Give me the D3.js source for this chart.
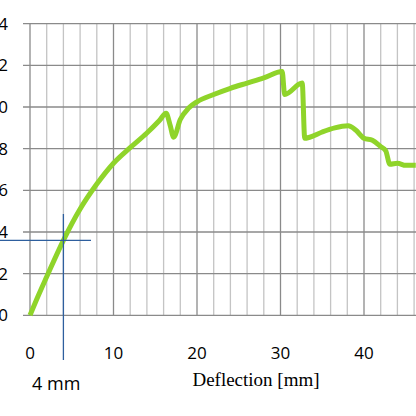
<!DOCTYPE html><html><head><meta charset="utf-8">
<script src="https://cdn.jsdelivr.net/npm/d3@7"></script>
<style>body{margin:0;background:#fff}</style></head><body>
<svg id="c" width="416" height="416"></svg>
<script>
const deflection=[0,1,2,4,6,8,10,12,14,15.5,16.3,16.8,17.2,18,19,20,22,24,26,28,30.2,30.5,32.6,32.9,33.5,35,36.5,38.1,39,40,41,42,42.6,43.1,44,45,46.2];
const load=[0,0.95,1.85,3.6,5.1,6.3,7.3,8.05,8.75,9.35,9.7,9.1,8.55,9.4,9.95,10.25,10.6,10.9,11.15,11.4,11.7,10.6,11.15,8.5,8.55,8.8,9.0,9.1,8.9,8.5,8.4,8.1,7.9,7.25,7.3,7.2,7.2];
const xTicks=[0,10,20,30,40];
const yTicks=[0,2,4,6,8,10,12,14];
const marker={x:4,y:3.6};
const svg=d3.select("#c");
const x=d3.scaleLinear().domain([0,10]).range([30,113.5]);
const y=d3.scaleLinear().domain([0,14]).range([315.3,23.7]);
const xmax=x.invert(416);
for(let v=0;v<=xmax;v+=2){svg.append("line").attr("x1",x(v)).attr("x2",x(v)).attr("y1",y(14)).attr("y2",y(0)).attr("stroke",v%10===0?"#8a8a8a":"#c4c4c4").attr("stroke-width",1.3);}
yTicks.forEach(v=>svg.append("line").attr("x1",23).attr("x2",416).attr("y1",y(v)).attr("y2",y(v)).attr("stroke","#8a8a8a").attr("stroke-width",1.3));
yTicks.forEach(v=>svg.append("text").attr("x",8).attr("y",y(v)+6).attr("text-anchor","end").attr("font-family","Open Sans, sans-serif").attr("font-size",17).text(v));
xTicks.forEach(v=>svg.append("text").attr("x",x(v)).attr("y",359).attr("text-anchor","middle").attr("font-family","Open Sans, sans-serif").attr("font-size",17).text(v));
svg.append("path").datum(deflection.map((d,i)=>[d,load[i]])).attr("d",d3.line().x(d=>x(d[0])).y(d=>y(d[1])).curve(d3.curveMonotoneX)).attr("fill","none").attr("stroke","#8fd42a").attr("stroke-width",5).attr("stroke-linejoin","round");
svg.append("line").attr("x1",x(marker.x)).attr("x2",x(marker.x)).attr("y1",214).attr("y2",360).attr("stroke","#2e5f9e").attr("stroke-width",1.3);
svg.append("line").attr("x1",0).attr("x2",91).attr("y1",y(marker.y)).attr("y2",y(marker.y)).attr("stroke","#2e5f9e").attr("stroke-width",1.3);
svg.append("text").attr("x",32).attr("y",390).attr("font-family","Open Sans, sans-serif").attr("font-size",18).text("4 mm");
svg.append("text").attr("x",256).attr("y",386).attr("text-anchor","middle").attr("font-family","Liberation Serif, serif").attr("font-size",19).text("Deflection [mm]");
</script></body></html>
